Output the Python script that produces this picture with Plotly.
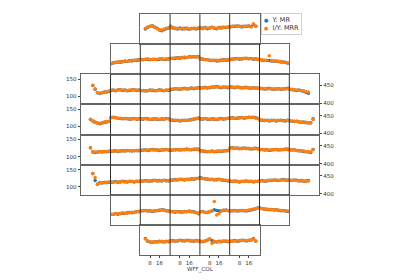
import plotly.graph_objects as go

# ---------------- data (left-axis units) ----------------
LOCAL_X = [0, 2, 4, 6, 8, 10, 12, 14, 16, 18, 20, 22, 24]
ROW_COLS = [(2, 5), (1, 6), (0, 7), (0, 7), (0, 7), (0, 7), (1, 6), (2, 5)]
SERIES_NAMES = ["Y: MR", "I/Y: MRR"]
XTICK_LOCAL = [8, 16]
XTICK_TEXT = ["8", "16"]
YTICK_LEFT = [100, 150]
YTICK_RIGHT = [400, 450]
X_LABEL = "WFF_COL"
N = None

ROW0_MR = [[N, N, 120, 124, 128, 129, 126, 122, 117, 115, 118, 121, 123],
           [127, 123, 122, 120, 123, 120, 122, 121, 119, 121, 122, 120, 122],
           [123, 122, 124, 121, 123, 125, 122, 121, 124, 123, 125, 124, 126],
           [126, 128, 127, 129, 128, 126, 128, 127, 129, 127, 133, 128, N]]
ROW0_MRR = [[N, N, 122, 126, 127, 130, 124, 121, 118, 117, 120, 122, 122],
            [129, 125, 121, 122, 121, 122, 120, 123, 120, 122, 121, 122, 123],
            [124, 121, 123, 123, 122, 124, 123, 122, 123, 125, 124, 125, 125],
            [127, 127, 129, 128, 127, 128, 127, 129, 128, 126, 135, 129, N]]

ROW1_MR = [[107, 109, 110, 112, 111, 113, 114, 113, 116, 115, 117, 116, 118],
           [119, 118, 120, 119, 118, 119, 120, 118, 119, 121, 119, 120, 121],
           [122, 123, 122, 124, 123, 125, 124, 125, 127, 126, 127, 126, 128],
           [121, 120, 119, 118, 117, 116, 117, 115, 116, 117, 118, 117, 118],
           [119, 120, 121, 122, 120, 121, 122, 123, 121, 122, 120, 121, 119],
           [118, 117, 117, 116, 116, 115, 114, 115, 113, 112, 112, 110, 108]]
ROW1_MRR = [[108, 110, 111, 111, 113, 112, 115, 114, 115, 117, 116, 118, 117],
            [120, 119, 119, 121, 119, 120, 119, 120, 121, 120, 120, 121, 120],
            [123, 122, 124, 123, 125, 124, 126, 125, 126, 128, 126, 127, 127],
            [120, 121, 118, 119, 116, 117, 116, 117, 115, 118, 117, 118, 117],
            [120, 121, 120, 121, 122, 120, 123, 122, 122, 121, 121, 120, 120],
            [119, 118, 116, 117, 130, 116, 115, 114, 114, 113, 111, 111, 109]]

ROW2_MR = [[N, N, N, N, N, 131, 120, 110, 108, 110, 112, 112, 114],
           [117, 118, 116, 118, 119, 117, 118, 116, 117, 118, 119, 117, 118],
           [116, 117, 115, 116, 118, 117, 116, 117, 119, 117, 116, 118, 117],
           [119, 120, 122, 121, 120, 122, 123, 121, 122, 124, 122, 123, 125],
           [124, 125, 126, 124, 125, 127, 126, 128, 126, 125, 127, 126, 125],
           [127, 126, 125, 127, 126, 124, 125, 126, 124, 123, 125, 124, 123],
           [123, 122, 121, 122, 123, 121, 120, 121, 122, 120, 121, 122, 123],
           [120, 119, 118, 117, 118, 116, 114, 111, 109, N, N, N, N]]
ROW2_MRR = [[N, N, N, N, N, 132, 122, 111, 109, 111, 111, 113, 115],
            [118, 117, 117, 119, 118, 118, 117, 117, 118, 119, 118, 118, 117],
            [117, 116, 116, 117, 117, 118, 117, 116, 118, 118, 117, 117, 118],
            [120, 121, 121, 122, 121, 121, 122, 122, 123, 123, 123, 124, 124],
            [125, 124, 125, 125, 126, 126, 127, 127, 127, 126, 126, 127, 126],
            [128, 127, 126, 126, 125, 125, 126, 125, 125, 124, 124, 125, 124],
            [122, 123, 122, 121, 122, 122, 121, 122, 121, 121, 122, 121, 122],
            [121, 120, 119, 118, 117, 117, 115, 113, 112, N, N, N, N]]

ROW3_MR = [[N, N, N, N, 120, 116, 112, 110, 108, 110, 112, 113, 115],
           [126, 127, 125, 124, 123, 122, 123, 122, 121, 122, 123, 121, 122],
           [122, 121, 123, 122, 120, 121, 122, 121, 120, 122, 121, 123, 122],
           [119, 118, 117, 118, 116, 117, 118, 117, 119, 120, 121, 123, 124],
           [122, 121, 123, 121, 120, 122, 121, 120, 122, 123, 121, 122, 124],
           [124, 125, 123, 124, 125, 126, 124, 125, 127, 126, 127, 125, 123],
           [119, 118, 117, 118, 116, 117, 118, 116, 117, 118, 117, 116, 118],
           [116, 115, 114, 115, 113, 112, 113, 111, 110, 111, 122, N, N]]
ROW3_MRR = [[N, N, N, N, 121, 117, 113, 109, 109, 111, 113, 114, 114],
            [125, 126, 126, 123, 124, 123, 122, 123, 122, 121, 122, 122, 121],
            [121, 122, 122, 121, 121, 122, 121, 122, 121, 121, 122, 122, 123],
            [118, 119, 118, 117, 117, 118, 117, 118, 118, 119, 122, 122, 125],
            [121, 122, 122, 122, 121, 121, 122, 121, 121, 122, 122, 123, 123],
            [125, 124, 124, 125, 124, 125, 125, 126, 126, 127, 126, 124, 124],
            [118, 119, 118, 117, 117, 118, 117, 117, 118, 117, 116, 117, 117],
            [117, 116, 115, 114, 114, 113, 112, 112, 111, 110, 120, N, N]]

ROW4_MR = [[N, N, N, N, 126, 113, 112, 113, 114, 113, 115, 114, 115],
           [115, 116, 117, 115, 116, 117, 116, 118, 117, 116, 117, 118, 117],
           [118, 119, 120, 118, 119, 121, 120, 119, 118, 119, 120, 121, 119],
           [118, 119, 120, 121, 119, 120, 121, 122, 121, 120, 121, 122, 121],
           [117, 116, 115, 114, 115, 116, 114, 115, 116, 115, 116, 117, 118],
           [125, 126, 124, 125, 123, 124, 125, 124, 123, 122, 123, 124, 123],
           [120, 121, 119, 120, 118, 119, 120, 121, 119, 120, 121, 122, 121],
           [120, 119, 120, 118, 117, 116, 115, 114, 113, 112, 121, N, N]]
ROW4_MRR = [[N, N, N, N, 125, 114, 113, 112, 115, 114, 114, 115, 116],
            [116, 115, 116, 116, 117, 116, 117, 117, 118, 117, 118, 117, 118],
            [119, 118, 119, 119, 120, 120, 119, 120, 119, 120, 119, 120, 120],
            [119, 120, 119, 120, 120, 121, 120, 121, 120, 121, 122, 121, 122],
            [116, 115, 116, 115, 114, 115, 115, 116, 115, 116, 117, 116, 117],
            [124, 125, 125, 124, 124, 123, 124, 123, 124, 123, 124, 123, 122],
            [121, 120, 120, 119, 119, 120, 121, 120, 120, 121, 120, 121, 122],
            [119, 120, 119, 118, 116, 117, 116, 115, 114, 113, 120, N, N]]

ROW5_MR = [[N, N, N, N, N, 139, 118, 107, 112, 111, 113, 112, 113],
           [113, 114, 115, 113, 114, 116, 115, 114, 116, 115, 114, 116, 115],
           [116, 117, 118, 117, 116, 118, 119, 117, 118, 117, 119, 118, 117],
           [119, 120, 121, 120, 122, 121, 120, 122, 121, 123, 122, 124, 125],
           [127, 124, 123, 122, 121, 122, 120, 121, 122, 120, 119, 118, 117],
           [116, 115, 117, 116, 114, 115, 116, 117, 115, 116, 114, 115, 116],
           [117, 118, 116, 117, 119, 118, 120, 119, 118, 120, 121, 119, 120],
           [119, 118, 120, 119, 117, 118, 116, 117, 118, N, N, N, N]]
ROW5_MRR = [[N, N, N, N, N, 138, 127, 108, 111, 112, 112, 113, 114],
            [114, 113, 114, 114, 115, 115, 114, 115, 115, 116, 115, 115, 116],
            [117, 116, 117, 118, 117, 117, 118, 118, 117, 118, 118, 117, 118],
            [120, 119, 120, 121, 121, 122, 121, 121, 122, 122, 123, 123, 124],
            [125, 125, 122, 123, 122, 121, 121, 120, 121, 121, 120, 119, 118],
            [117, 116, 116, 115, 115, 116, 115, 116, 116, 115, 115, 116, 115],
            [118, 117, 117, 118, 118, 119, 119, 120, 119, 119, 120, 120, 119],
            [118, 119, 119, 118, 118, 117, 117, 116, 117, N, N, N, N]]

ROW6_MR = [[107, 108, 109, 108, 110, 111, 110, 112, 113, 112, 114, 115, 116],
           [117, 118, 119, 117, 118, 116, 117, 118, 119, 121, 120, 118, 117],
           [116, 115, 114, 116, 115, 114, 116, 115, 117, 116, 115, 113, 109],
           [115, 116, 114, 113, 115, 117, 121, 119, 118, 117, 119, 120, 118],
           [117, 118, 119, 117, 118, 119, 118, 117, 119, 120, 122, 124, 127],
           [126, 124, 123, 122, 121, 122, 120, 121, 119, 118, 119, 117, 116]]
ROW6_MRR = [[108, 107, 110, 109, 109, 112, 111, 111, 112, 114, 113, 116, 115],
            [118, 119, 118, 118, 117, 117, 118, 119, 120, 120, 119, 117, 118],
            [115, 116, 115, 115, 114, 115, 115, 116, 116, 115, 114, 112, 110],
            [116, 115, 113, 114, 116, 118, 145, 106, 110, 118, 120, 119, 119],
            [118, 117, 118, 118, 119, 118, 119, 118, 120, 121, 123, 125, 126],
            [125, 125, 122, 123, 122, 121, 121, 120, 120, 119, 118, 118, 117]]

ROW7_MR = [[N, N, 125, 117, 115, 114, 116, 115, 117, 116, 115, 117, 116],
           [118, 119, 117, 118, 120, 119, 118, 120, 119, 118, 117, 119, 118],
           [117, 116, 118, 120, 124, 119, 116, 115, 117, 116, 118, 117, 116],
           [117, 118, 119, 117, 118, 120, 119, 118, 120, 121, 125, 118, N]]
ROW7_MRR = [[N, N, 124, 118, 116, 115, 115, 116, 116, 117, 116, 116, 117],
            [119, 118, 118, 119, 119, 118, 119, 119, 118, 119, 118, 118, 119],
            [116, 117, 117, 121, 123, 111, 117, 116, 116, 117, 117, 118, 117],
            [118, 117, 118, 118, 119, 119, 120, 119, 119, 120, 124, 117, N]]

MR_ROWS = [ROW0_MR, ROW1_MR, ROW2_MR, ROW3_MR, ROW4_MR, ROW5_MR, ROW6_MR, ROW7_MR]
MRR_ROWS = [ROW0_MRR, ROW1_MRR, ROW2_MRR, ROW3_MRR, ROW4_MRR, ROW5_MRR, ROW6_MRR, ROW7_MRR]

# ---------------- geometry / style ----------------
FIG_W, FIG_H = 400, 280
LEFT_PX, COL_PX = 80.7, 29.8
TOP_PX, ROW_PX = 14.0, 30.4
COL_UNITS, X_START = 25.6, -0.4
Y_RANGE = [76, 164]
Y2_RANGE = [397, 481]
COLORS = ["#1f77b4", "#ff7f0e"]
FONT = "DejaVu Sans"
TEXT_C = "#333333"
LINE_C = "#666666"
DIV_C = "#333333"

fig = go.Figure()


def flatten(row_vals, c0):
    xs, ys = [], []
    for j, col in enumerate(row_vals):
        c = c0 + j
        for lx, v in zip(LOCAL_X, col):
            if v is None:
                continue
            xs.append(c * COL_UNITS + lx)
            ys.append(v)
    return xs, ys


for r, (c0, c1) in enumerate(ROW_COLS):
    ax = "" if r == 0 else str(r + 1)
    for s, rows in enumerate([MR_ROWS, MRR_ROWS]):
        xs, ys = flatten(rows[r], c0)
        fig.add_trace(go.Scatter(
            x=xs, y=ys, mode="markers", name=SERIES_NAMES[s],
            legendgroup=SERIES_NAMES[s], showlegend=False,
            marker=dict(color=COLORS[s], size=3.5, line=dict(width=0)),
            xaxis="x" + ax, yaxis="y" + ax, hoverinfo="skip"))

    xdom = [(LEFT_PX + c0 * COL_PX) / FIG_W, (LEFT_PX + (c1 + 1) * COL_PX) / FIG_W]
    ydom = [1 - (TOP_PX + (r + 1) * ROW_PX) / FIG_H, 1 - (TOP_PX + r * ROW_PX) / FIG_H]
    bottom = (r == len(ROW_COLS) - 1)
    side_ticks = 2 <= r <= 5
    xa = dict(domain=xdom, range=[c0 * COL_UNITS + X_START, (c1 + 1) * COL_UNITS + X_START],
              anchor="y" + ax, showgrid=False, zeroline=False, showline=True, mirror=True,
              linecolor=LINE_C, linewidth=1, fixedrange=True)
    if bottom:
        tv, tt = [], []
        for c in range(c0, c1 + 1):
            for lx, t in zip(XTICK_LOCAL, XTICK_TEXT):
                tv.append(c * COL_UNITS + lx)
                tt.append(t)
        xa.update(tickmode="array", tickvals=tv, ticktext=tt, ticks="outside", ticklen=2,
                  tickwidth=0.8, tickcolor="#444", tickfont=dict(size=5.5, color=TEXT_C, family=FONT),
                  title=dict(text=X_LABEL, font=dict(size=5.5, color=TEXT_C, family=FONT), standoff=2))
    else:
        xa.update(showticklabels=False, ticks="")
    ya = dict(domain=ydom, range=Y_RANGE, anchor="x" + ax, showgrid=False, zeroline=False,
              showline=True, mirror=True, linecolor=LINE_C, linewidth=1, fixedrange=True)
    if side_ticks:
        ya.update(tickmode="array", tickvals=YTICK_LEFT, ticks="outside", ticklen=2, tickwidth=0.8,
                  tickcolor="#444", tickfont=dict(size=5.5, color=TEXT_C, family=FONT))
    else:
        ya.update(showticklabels=False, ticks="")
    fig.layout["xaxis" + ax] = xa
    fig.layout["yaxis" + ax] = ya

    # internal panel dividers
    for c in range(c0 + 1, c1 + 1):
        xb = c * COL_UNITS + X_START
        fig.add_shape(type="line", xref="x" + ax, yref="y" + ax + " domain",
                      x0=xb, x1=xb, y0=0, y1=1, line=dict(color=DIV_C, width=1))

# right-hand axes for the middle rows
for k, r in enumerate(range(2, 6)):
    ax = str(r + 1)
    rid = str(9 + k)
    fig.add_trace(go.Scatter(x=[], y=[], xaxis="x" + ax, yaxis="y" + rid, showlegend=False,
                             mode="markers", hoverinfo="skip"))
    fig.layout["yaxis" + rid] = dict(overlaying="y" + ax, side="right", anchor="x" + ax,
                                      range=Y2_RANGE, tickmode="array", tickvals=YTICK_RIGHT,
                                      ticks="outside", ticklen=2, tickwidth=0.8, tickcolor="#444",
                                      tickfont=dict(size=5.5, color=TEXT_C, family=FONT),
                                      showgrid=False, zeroline=False, showline=False,
                                      fixedrange=True)

# compact legend (matplotlib-style) as a framed text box
legend_text = "<br>".join(
    f'<span style="color:{COLORS[s]};font-size:5px">●</span>'
    f'<span style="color:{TEXT_C}">  {SERIES_NAMES[s]}</span>'
    for s in range(len(SERIES_NAMES)))
fig.add_annotation(
    xref="paper", yref="paper", x=260.5 / FIG_W, y=1 - 13.3 / FIG_H,
    xanchor="left", yanchor="top", align="left", showarrow=False,
    text=legend_text, font=dict(size=6.5, family=FONT, color=TEXT_C),
    bgcolor="white", bordercolor="#d0d0d0", borderwidth=1, borderpad=2)

fig.update_layout(
    width=FIG_W, height=FIG_H, margin=dict(l=0, r=0, t=0, b=0),
    paper_bgcolor="white", plot_bgcolor="white",
    font=dict(family=FONT, size=6, color=TEXT_C),
    showlegend=False,
)

fig.write_html("out.html")
